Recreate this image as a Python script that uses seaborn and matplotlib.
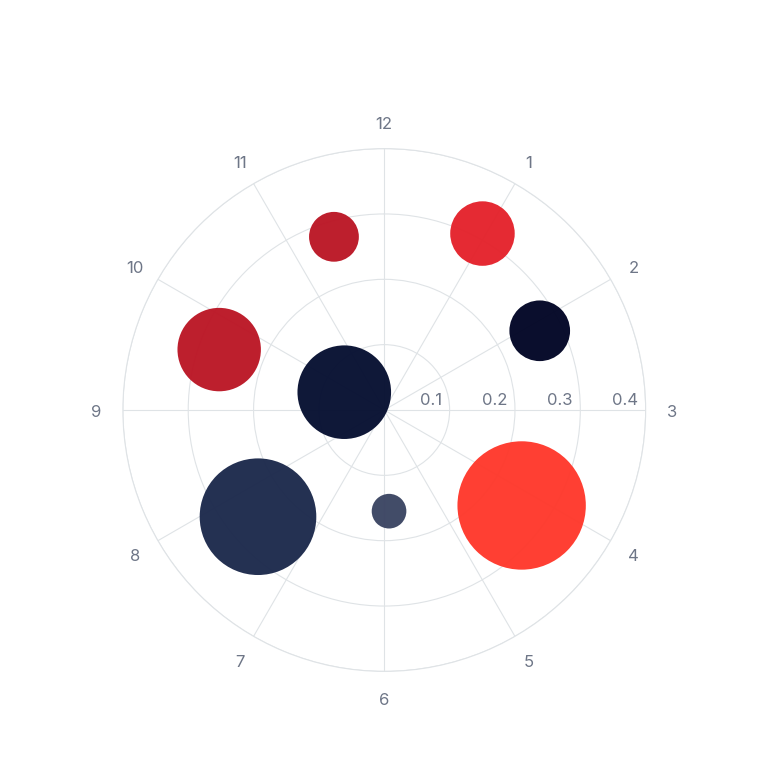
import numpy as np
import pandas as pd
import matplotlib
matplotlib.use("Agg")
import matplotlib.pyplot as plt
import seaborn as sns

# clock position (0-12), radial value, bubble weight, colour
hour = [0.97, 2.10, 4.16, 5.91, 7.66, 9.67, 11.46, 9.80]
radius = [0.309, 0.267, 0.256, 0.155, 0.253, 0.269, 0.276, 0.067]
weight = [10.4, 9.2, 41.2, 3.0, 34.0, 17.4, 6.2, 21.9]
colors = ["#E4212A", "#000424", "#FF372A", "#3A4462",
          "#1B284B", "#BB1524", "#BB1524", "#050E30"]

hour_labels = ["12", "1", "2", "3", "4", "5", "6", "7", "8", "9", "10", "11"]
r_ticks = [0.1, 0.2, 0.3, 0.4]

df = pd.DataFrame({"hour": hour, "radius": radius, "weight": weight})
df["theta"] = df["hour"] * 2 * np.pi / 12
df["id"] = [str(i) for i in range(len(df))]

sns.set_style("white")
plt.rcParams["font.family"] = ["Inter", "DejaVu Sans"]

fig = plt.figure(figsize=(7.68, 7.68), dpi=100)
ax = fig.add_axes([0.160, 0.1258, 0.6807, 0.6807], projection="polar")
ax.set_theta_zero_location("N")
ax.set_theta_direction(-1)

grid_c = "#DFE3E6"
txt_c = "#6E7687"

# px -> pt^2 : marker area = (2 * r_px * 0.72)^2 = 207.36 * weight
k = 207.36
sns.scatterplot(data=df, x="theta", y="radius", hue="id", palette=colors,
                size="weight", sizes=(k * min(weight), k * max(weight)),
                size_norm=(min(weight), max(weight)),
                linewidth=0, alpha=0.96, legend=False, ax=ax, zorder=3)

ax.set_ylim(0, 0.4)
ax.set_xticks(np.arange(12) * 2 * np.pi / 12)
ax.set_xticklabels([])
ax.set_yticks(r_ticks)
ax.set_yticklabels([])
ax.set_xlabel("")
ax.set_ylabel("")
ax.grid(True, color=grid_c, linewidth=0.8)
ax.spines["polar"].set_color(grid_c)
ax.spines["polar"].set_linewidth(0.8)
ax.set_axisbelow(True)

for i, lab in enumerate(hour_labels):
    ax.annotate(lab, xy=(i * 2 * np.pi / 12, 0.441), xytext=(0, -2),
                textcoords="offset points", ha="center", va="center",
                fontsize=12, color=txt_c, annotation_clip=False)

for r in r_ticks:
    ax.annotate(f"{r:.1f}", xy=(np.pi / 2, r), xytext=(-5.5, 1.5),
                textcoords="offset points", ha="right", va="bottom",
                fontsize=12, color=txt_c, annotation_clip=False)

fig.savefig("out.png", dpi=100, facecolor="white")
